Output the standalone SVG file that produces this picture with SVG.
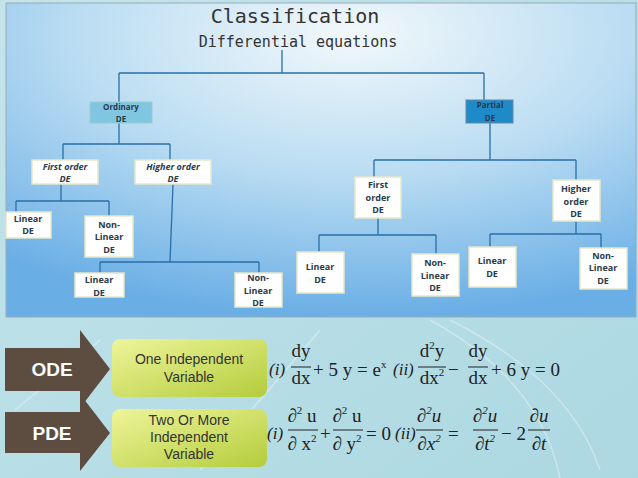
<svg xmlns="http://www.w3.org/2000/svg" width="638" height="478" viewBox="0 0 638 478">
<defs>
<linearGradient id="bg" x1="0" y1="0" x2="1" y2="1"><stop offset="0" stop-color="#c4e4ea"/><stop offset="1" stop-color="#acd8e2"/></linearGradient>
<radialGradient id="panel" cx="0.55" cy="0.1" r="0.9"><stop offset="0" stop-color="#f2f8fb"/><stop offset="0.5" stop-color="#b9dcf2"/><stop offset="1" stop-color="#6aaee6"/></radialGradient>
<linearGradient id="green" x1="0" y1="0" x2="1" y2="1"><stop offset="0" stop-color="#eef59a"/><stop offset="1" stop-color="#b4cc3c"/></linearGradient>
<style>
.c{stroke:#2a6fa8;stroke-width:1.3;fill:none}
.b{fill:#fff;stroke:#e6e8c8;stroke-width:1.5}
.t{font-family:"Open Sans","DejaVu Sans",sans-serif;font-size:9px;font-weight:bold;fill:#2a3a4a;text-anchor:middle}
.s{font-size:8px}
.ti{font-style:italic}
.m{font-family:"Liberation Serif",serif;font-size:19px;fill:#222}
.mc{text-anchor:middle}
.r{font-style:italic;font-size:17px}
.bar{stroke:#222;stroke-width:1}
.g{font-family:"Liberation Sans",sans-serif;font-size:14px;fill:#333;text-anchor:middle}
.a{fill:#5d4c40}
.at{font-family:"Liberation Sans",sans-serif;font-size:19px;font-weight:bold;fill:#fff;text-anchor:middle}
</style>
</defs>
<rect width="638" height="478" fill="url(#bg)"/>
<g stroke="#fff" stroke-opacity="0.35" stroke-width="1.5" fill="none">
<path d="M430 320 Q540 380 560 478"/><path d="M450 320 Q570 380 600 470"/><path d="M15 410 L100 340"/><path d="M200 470 L320 330"/>
</g>
<rect x="6" y="3" width="630" height="314" fill="url(#panel)" stroke="#9ab" stroke-width="1"/>
<text x="295" y="23" font-family="DejaVu Sans Mono,monospace" font-size="20" fill="#333" text-anchor="middle">Classification</text>
<text x="298" y="47" font-family="DejaVu Sans Mono,monospace" font-size="15" fill="#333" text-anchor="middle">Differential equations</text>
<g id="connectors">
<path class="c" d="M282 50V73M119 73H484M119 73V102M484 73V100"/>
<path class="c" d="M119 123V144M63 144H170M63 144V160M170 144V160"/>
<path class="c" d="M61 184V201M16 201H109M16 201V212M109 201V216"/>
<path class="c" d="M173 184L170 262M100 262H259M100 262V273M259 262V273"/>
<path class="c" d="M490 123V160M374 160H576M374 160V177M576 160V180"/>
<path class="c" d="M378 218V235M319 235H436M319 235V252M436 235V254"/>
<path class="c" d="M576 221V234M490 234H601M490 234V247M601 234V248"/>
</g>
<g id="ordinary"><rect x="90" y="102" width="62" height="21" fill="#80c6e0" stroke="#9cc"/><text class="t s" x="121" y="110">Ordinary</text><text class="t s" x="121" y="121.5">DE</text></g>
<g id="partial"><rect x="466" y="100" width="47" height="23" fill="#1e8ac8" stroke="#68a"/><text class="t s" x="490" y="108" fill="#cde">Partial</text><text class="t s" x="490" y="120.5">DE</text></g>
<g id="ode-first"><rect class="b" x="32" y="160" width="66" height="24"/><text class="t ti" x="65" y="170">First order</text><text class="t ti" x="65" y="182">DE</text></g>
<g id="ode-higher"><rect class="b" x="135" y="160" width="76" height="24"/><text class="t ti" x="173" y="170">Higher order</text><text class="t ti" x="173" y="182">DE</text></g>
<g id="ode1-linear"><rect class="b" x="6" y="212" width="45" height="26"/><text class="t" x="28" y="222">Linear</text><text class="t" x="28" y="234">DE</text></g>
<g id="ode1-nonlinear"><rect class="b" x="85" y="216" width="48" height="41"/><text class="t" x="109" y="228">Non-</text><text class="t" x="109" y="240">Linear</text><text class="t" x="109" y="253">DE</text></g>
<g id="odeh-linear"><rect class="b" x="75" y="273" width="49" height="24"/><text class="t" x="99" y="283">Linear</text><text class="t" x="99" y="296">DE</text></g>
<g id="odeh-nonlinear"><rect class="b" x="235" y="273" width="47" height="34"/><text class="t" x="258" y="281">Non-</text><text class="t" x="258" y="294">Linear</text><text class="t" x="258" y="306">DE</text></g>
<g id="pde-first"><rect class="b" x="355" y="177" width="46" height="41"/><text class="t" x="378" y="188">First</text><text class="t" x="378" y="201">order</text><text class="t" x="378" y="213">DE</text></g>
<g id="pde-higher"><rect class="b" x="553" y="180" width="47" height="41"/><text class="t" x="576" y="192">Higher</text><text class="t" x="576" y="205">order</text><text class="t" x="576" y="217">DE</text></g>
<g id="pde1-linear"><rect class="b" x="297" y="252" width="47" height="41"/><text class="t" x="320" y="270">Linear</text><text class="t" x="320" y="283">DE</text></g>
<g id="pde1-nonlinear"><rect class="b" x="412" y="254" width="47" height="42"/><text class="t" x="435" y="266">Non-</text><text class="t" x="435" y="279">Linear</text><text class="t" x="435" y="291">DE</text></g>
<g id="pdeh-linear"><rect class="b" x="469" y="247" width="47" height="40"/><text class="t" x="492" y="264">Linear</text><text class="t" x="492" y="277">DE</text></g>
<g id="pdeh-nonlinear"><rect class="b" x="580" y="248" width="47" height="41"/><text class="t" x="603" y="259">Non-</text><text class="t" x="603" y="271">Linear</text><text class="t" x="603" y="284">DE</text></g>
<g id="ode-arrow"><path class="a" d="M5 348H80V330L110 369L80 408V391H5Z"/><text class="at" x="52" y="376">ODE</text></g>
<g id="pde-arrow"><path class="a" d="M5 412H80V394L110 433L80 471V453H5Z"/><text class="at" x="52" y="440">PDE</text></g>
<g id="ode-box"><rect x="112" y="339" width="155" height="58" rx="8" fill="url(#green)"/><text class="g" x="189" y="364">One Independent</text><text class="g" x="189" y="382">Variable</text></g>
<g id="pde-box"><rect x="112" y="409" width="155" height="58" rx="8" fill="url(#green)"/><text class="g" x="189" y="425">Two Or More</text><text class="g" x="189" y="442">Independent</text><text class="g" x="189" y="459">Variable</text></g>
<g id="ode-eq" class="m">
<text class="r" x="269" y="375">(i)</text>
<text class="mc" x="301" y="357">dy</text><line class="bar" x1="291" y1="367" x2="311" y2="367"/><text class="mc" x="301" y="384">dx</text>
<text x="313" y="376">+ 5 y = e<tspan font-size="11" dy="-8">x</tspan></text>
<text class="r" x="393" y="375">(ii)</text>
<text class="mc" x="432" y="357">d<tspan font-size="11" dy="-8">2</tspan><tspan dy="8">y</tspan></text><line class="bar" x1="418" y1="367" x2="446" y2="367"/><text class="mc" x="432" y="384">dx<tspan font-size="11" dy="-8">2</tspan></text>
<text x="448" y="376">−</text>
<text class="mc" x="478" y="357">dy</text><line class="bar" x1="468" y1="367" x2="488" y2="367"/><text class="mc" x="478" y="384">dx</text>
<text x="491" y="376">+ 6 y = 0</text>
</g>
<g id="pde-eq" class="m">
<text class="r" x="267" y="439">(i)</text>
<text class="mc" x="302" y="422">∂<tspan font-size="11" dy="-8">2</tspan><tspan dy="8"> u</tspan></text><line class="bar" x1="288" y1="430" x2="318" y2="430"/><text class="mc" x="302" y="450">∂ x<tspan font-size="11" dy="-8">2</tspan></text>
<text x="320" y="440">+</text>
<text class="mc" x="347" y="422">∂<tspan font-size="11" dy="-8">2</tspan><tspan dy="8"> u</tspan></text><line class="bar" x1="333" y1="430" x2="363" y2="430"/><text class="mc" x="347" y="450">∂ y<tspan font-size="11" dy="-8">2</tspan></text>
<text x="366" y="440">= 0</text>
<text class="r" x="395" y="439">(ii)</text>
<g font-style="italic">
<text class="mc" x="429" y="422">∂<tspan font-size="11" dy="-8">2</tspan><tspan dy="8">u</tspan></text><line class="bar" x1="416" y1="430" x2="443" y2="430"/><text class="mc" x="429" y="450">∂x<tspan font-size="11" dy="-8">2</tspan></text>
<text class="mc" x="485" y="422">∂<tspan font-size="11" dy="-8">2</tspan><tspan dy="8">u</tspan></text><line class="bar" x1="473" y1="430" x2="498" y2="430"/><text class="mc" x="485" y="450">∂t<tspan font-size="11" dy="-8">2</tspan></text>
<text class="mc" x="539" y="422">∂u</text><line class="bar" x1="528" y1="430" x2="550" y2="430"/><text class="mc" x="539" y="450">∂t</text>
</g>
<text x="448" y="440">=</text>
<text x="501" y="440">− 2</text>
</g>
</svg>
